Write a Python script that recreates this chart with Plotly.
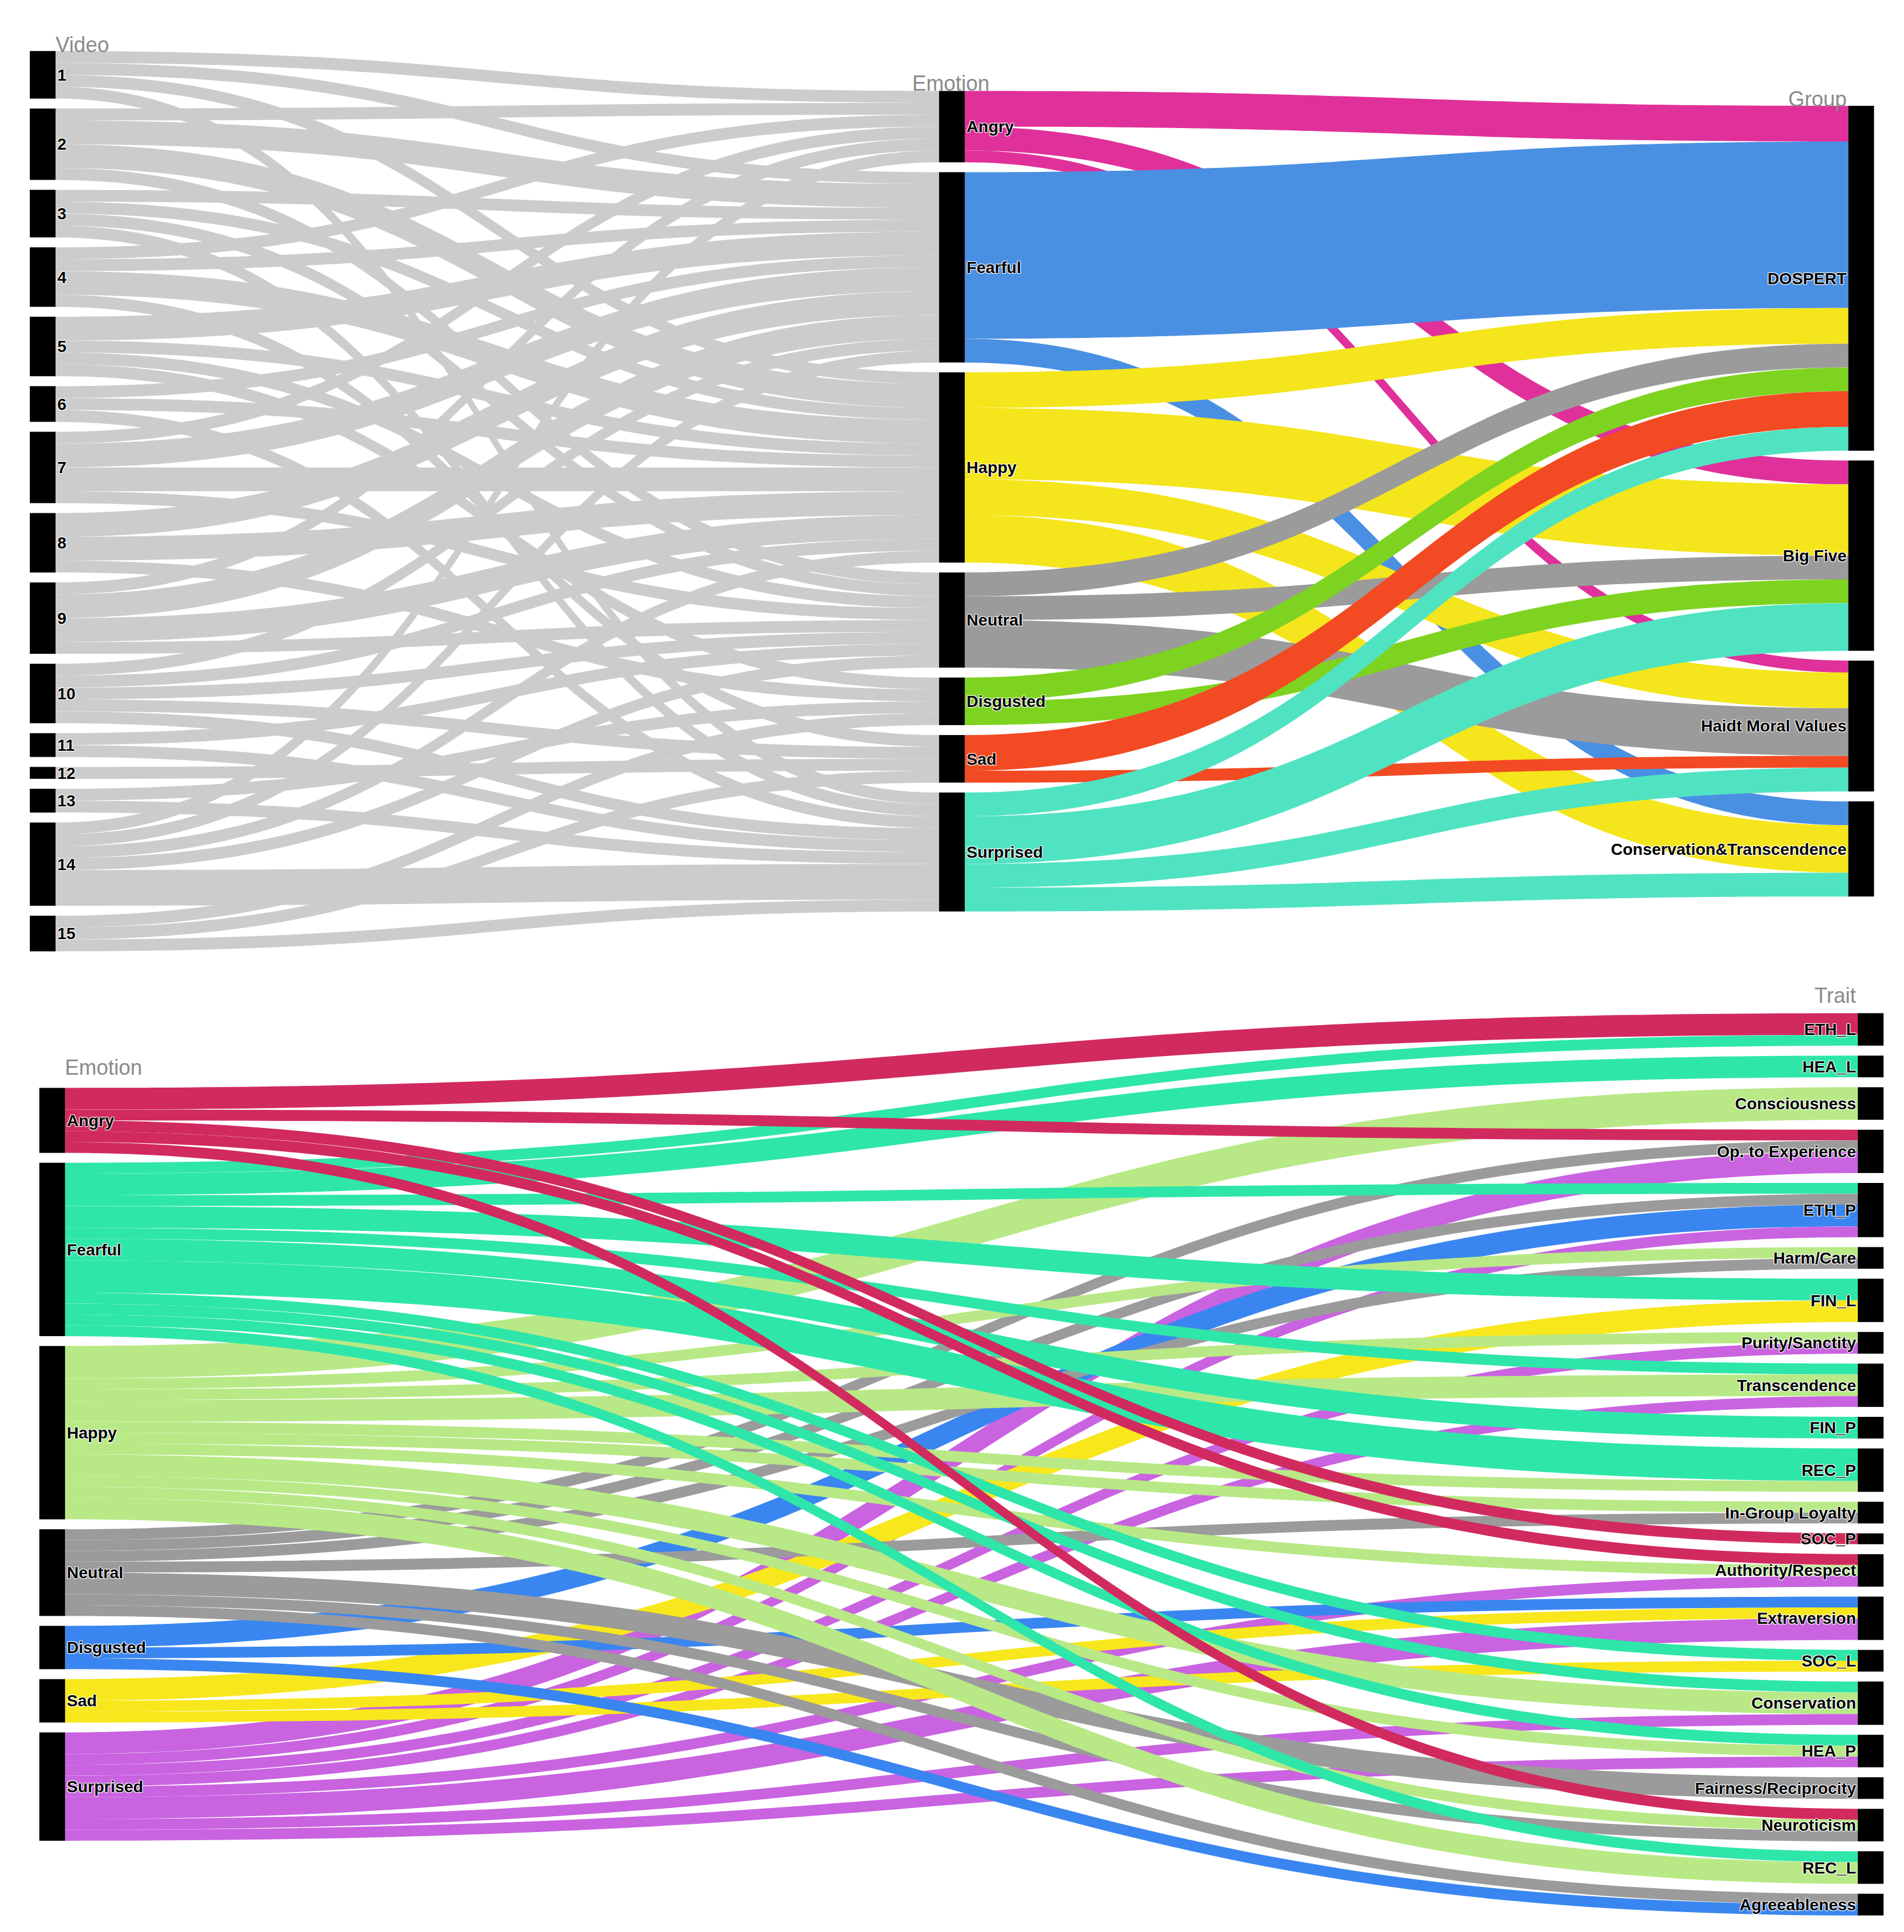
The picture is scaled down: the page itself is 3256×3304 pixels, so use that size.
import plotly.graph_objects as go

videos = [str(i) for i in range(1, 16)]
emotions = ["Angry", "Fearful", "Happy", "Neutral", "Disgusted", "Sad", "Surprised"]
groups = ["DOSPERT", "Big Five", "Haidt Moral Values", "Conservation&Transcendence"]

# video -> emotion counts (rows: videos, cols: emotions)
video_emotion = [
    [1, 1, 1, 0, 0, 0, 1],
    [1, 2, 2, 1, 0, 0, 0],
    [0, 1, 1, 1, 0, 0, 1],
    [1, 1, 2, 0, 0, 1, 0],
    [0, 2, 1, 1, 1, 0, 0],
    [0, 1, 1, 0, 0, 0, 1],
    [1, 2, 2, 1, 0, 0, 0],
    [0, 2, 2, 0, 1, 0, 0],
    [1, 2, 2, 1, 0, 0, 0],
    [0, 1, 1, 1, 0, 1, 1],
    [0, 0, 0, 1, 0, 0, 1],
    [0, 0, 0, 0, 0, 1, 0],
    [0, 0, 0, 0, 1, 0, 1],
    [1, 1, 1, 1, 0, 0, 3],
    [0, 0, 0, 0, 1, 1, 1],
]
# emotion -> group counts
emotion_group = [
    [3, 2, 1, 0],
    [14, 0, 0, 2],
    [3, 6, 3, 4],
    [2, 2, 4, 0],
    [2, 2, 0, 0],
    [3, 0, 1, 0],
    [2, 4, 2, 2],
]
top_colors = ["#e0309a", "#4a90e2", "#f5e51c", "#9b9b9b", "#7ed321", "#f24a23", "#50e3c2"]

traits = ["ETH_L", "HEA_L", "Consciousness", "Op. to Experience", "ETH_P", "Harm/Care", "FIN_L",
          "Purity/Sanctity", "Transcendence", "FIN_P", "REC_P", "In-Group Loyalty", "SOC_P",
          "Authority/Respect", "Extraversion", "SOC_L", "Conservation", "HEA_P",
          "Fairness/Reciprocity", "Neuroticism", "REC_L", "Agreeableness"]
# emotion -> trait counts: (emotion, trait, value)
emotion_trait = [
    ("Angry", "ETH_L", 2), ("Fearful", "ETH_L", 1),
    ("Fearful", "HEA_L", 2),
    ("Happy", "Consciousness", 3),
    ("Angry", "Op. to Experience", 1), ("Neutral", "Op. to Experience", 1), ("Surprised", "Op. to Experience", 2),
    ("Fearful", "ETH_P", 1), ("Neutral", "ETH_P", 1), ("Disgusted", "ETH_P", 2), ("Surprised", "ETH_P", 1),
    ("Happy", "Harm/Care", 1), ("Neutral", "Harm/Care", 1),
    ("Fearful", "FIN_L", 2), ("Sad", "FIN_L", 2),
    ("Happy", "Purity/Sanctity", 1), ("Surprised", "Purity/Sanctity", 1),
    ("Fearful", "Transcendence", 1), ("Happy", "Transcendence", 2), ("Surprised", "Transcendence", 1),
    ("Fearful", "FIN_P", 2),
    ("Fearful", "REC_P", 3), ("Happy", "REC_P", 1),
    ("Neutral", "In-Group Loyalty", 1), ("Happy", "In-Group Loyalty", 1),
    ("Angry", "SOC_P", 1),
    ("Angry", "Authority/Respect", 1), ("Happy", "Authority/Respect", 1), ("Surprised", "Authority/Respect", 1),
    ("Disgusted", "Extraversion", 1), ("Surprised", "Extraversion", 2), ("Sad", "Extraversion", 1),
    ("Fearful", "SOC_L", 1), ("Sad", "SOC_L", 1),
    ("Happy", "Conservation", 2), ("Fearful", "Conservation", 1), ("Surprised", "Conservation", 1),
    ("Surprised", "HEA_P", 1), ("Fearful", "HEA_P", 1), ("Happy", "HEA_P", 1),
    ("Neutral", "Fairness/Reciprocity", 2),
    ("Angry", "Neuroticism", 1), ("Happy", "Neuroticism", 1), ("Neutral", "Neuroticism", 1),
    ("Fearful", "REC_L", 1), ("Happy", "REC_L", 2),
    ("Neutral", "Agreeableness", 1), ("Disgusted", "Agreeableness", 1),
]
bottom_colors = ["#d12a5e", "#2ee6aa", "#b8e986", "#9b9b9b", "#3a86f0", "#f8e71c", "#c963e0"]

FONT = "Liberation Sans"


def column_positions(sizes, gap, ref_span):
    """Node centre positions (0..1) keeping input order, column centred vertically."""
    total = sum(sizes) + gap * (len(sizes) - 1)
    off = (ref_span - total) / 2
    ys, cum = [], 0
    for i, s in enumerate(sizes):
        ys.append((off + cum + i * gap + s / 2) / ref_span)
        cum += s
    return ys


# ---------- top sankey ----------
labels_top = videos + emotions + groups
src, tgt, val, col = [], [], [], []
for i, row in enumerate(video_emotion):
    for j, v in enumerate(row):
        if v:
            src.append(i); tgt.append(15 + j); val.append(v); col.append("#cccccc")
for j, row in enumerate(emotion_group):
    for k, v in enumerate(row):
        if v:
            src.append(15 + j); tgt.append(22 + k); val.append(v); col.append(top_colors[j])

v_sizes = [sum(r) for r in video_emotion]
e_sizes = [sum(r) for r in emotion_group]
g_sizes = [sum(r[k] for r in emotion_group) for k in range(len(groups))]
gap_t = 0.84
ref_t = sum(v_sizes) + gap_t * (len(v_sizes) - 1)
ys_top = (column_positions(v_sizes, gap_t, ref_t) + column_positions(e_sizes, gap_t, ref_t)
          + column_positions(g_sizes, gap_t, ref_t))
xs_top = [0.001] * 15 + [0.5] * 7 + [0.999] * 4

fig = go.Figure()
fig.add_trace(go.Sankey(
    arrangement="fixed",
    domain=dict(x=[0.019, 0.976], y=[0.510, 0.976]),
    node=dict(label=labels_top, color="black", thickness=44, pad=17, line=dict(width=0),
              x=xs_top, y=ys_top),
    link=dict(source=src, target=tgt, value=val, color=col),
    textfont=dict(family=FONT, size=28, color="black", weight="bold"),
))

# ---------- bottom sankey ----------
labels_bot = emotions + traits
src2, tgt2, val2, col2 = [], [], [], []
for e, t, v in emotion_trait:
    ei = emotions.index(e)
    src2.append(ei); tgt2.append(7 + traits.index(t)); val2.append(v); col2.append(bottom_colors[ei])
eb_sizes = [sum(v for e, t, v in emotion_trait if e == em) for em in emotions]
t_sizes = [sum(v for e, t, v in emotion_trait if t == tr) for tr in traits]
gap_b = 0.92
ref_b = sum(t_sizes) + gap_b * (len(t_sizes) - 1)
ys_bot = column_positions(eb_sizes, gap_b, ref_b) + column_positions(t_sizes, gap_b, ref_b)
xs_bot = [0.001] * 7 + [0.999] * len(traits)

fig.add_trace(go.Sankey(
    arrangement="fixed",
    domain=dict(x=[0.024, 0.981], y=[0.011, 0.478]),
    node=dict(label=labels_bot, color="black", thickness=44, pad=17, line=dict(width=0),
              x=xs_bot, y=ys_bot),
    link=dict(source=src2, target=tgt2, value=val2, color=col2),
    textfont=dict(family=FONT, size=28, color="black", weight="bold"),
))

titles = [("Video", 0.026, 0.986), ("Emotion", 0.497, 0.966), ("Group", 0.968, 0.958),
          ("Emotion", 0.031, 0.450), ("Trait", 0.973, 0.487)]
for t, x, y in titles:
    fig.add_annotation(text=t, x=x, y=y, xref="paper", yref="paper", showarrow=False,
                       font=dict(family=FONT, size=36, color="#8a8a8a"))

fig.update_layout(width=3256, height=3304, margin=dict(l=0, r=0, t=0, b=0),
                  paper_bgcolor="white", plot_bgcolor="white")
fig.write_html("out.html")
